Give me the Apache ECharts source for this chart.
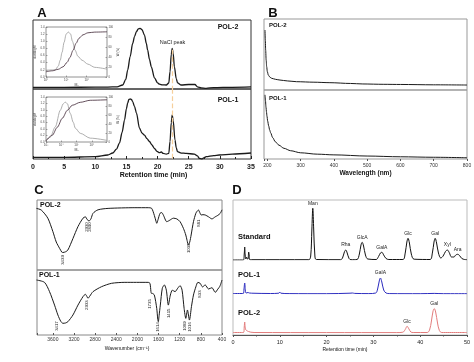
<!DOCTYPE html>
<html><head><meta charset="utf-8">
<script src="https://cdn.jsdelivr.net/npm/echarts@6/dist/echarts.min.js"></script>
<style>html,body{margin:0;padding:0;background:#fff}#c{width:474px;height:362px}</style>
</head><body><div id="c"></div>
<script>
// ---------- Panel A: GPC chromatograms ----------
const aTime2 = [0,5,10,12,13.5,14.4,14.9,15.2,15.6,16.0,16.3,16.6,16.9,17.2,17.5,17.9,18.2,18.4,18.7,19.0,19.5,20.0,20.3,20.8,21.4,21.8,22.0,22.2,22.35,22.5,22.7,23.0,23.2,23.8,25.0,26.0,26.4,27.0,27.8,29.0,32.0,35.0];
const aPol2  = [2.5,2.5,2.6,2.8,3.2,5.8,14,27.5,47,66,76,83,87,88,86,78,66,56.5,43,32,16,9,7,6,5.8,8.7,25,50,59,52,32,15,9,5.8,6.5,6.5,3,1.5,1,2,2.5,3];
const aTime1 = [0,5,10,12,12.8,13.4,13.9,14.3,14.7,15.0,15.2,15.4,15.6,15.8,16.0,16.3,16.6,17.1,17.5,17.9,18.3,18.7,19.1,19.5,19.9,20.3,20.6,20.9,21.4,21.8,22.0,22.2,22.35,22.5,22.8,23.0,23.2,23.8,24.6,25.9,26.4,26.7,27.1,27.5,27.8,29.0,29.9,32.0,35.0];
const aPol1  = [2.4,2.4,3.3,5.7,8.6,14,23,38,56,72,80,85,86,85,82,75,66,44,37,34,29,25,20,15,11,9,10,8,7,8,25,52,63,55,27,16,10.4,8.5,8,7,4.5,1,0,2,3.3,4.8,5.7,7,8.6];
const naclTime = 22.4;
const naclLabel = 'NaCl peak';
// insets (molecular weight distribution)
const inTopLogM  = [4.0,4.45,4.6,4.7,4.79,4.89,4.99,5.1,5.21,5.3,5.43,5.57,5.77,6.06,6.4,7.0];
const inTopBell  = [0.19,0.2,0.3,0.47,0.69,0.97,1.2,1.26,1.2,1.0,0.75,0.58,0.47,0.36,0.27,0.22];
const inTopLogM2 = [4.0,4.31,4.6,4.84,5.04,5.18,5.33,5.48,5.62,5.82,6.06,6.4,7.0];
const inTopSig   = [10.4,12.4,15.4,20.4,29.4,39.4,53.4,67.4,77.4,84.4,88.4,89.8,90.4];
const inBotLogM  = [3.0,3.28,3.61,3.94,4.13,4.27,4.4,4.59,4.79,4.92,5.25,5.9,7.0];
const inBotBell  = [0.05,0.15,0.47,0.99,1.19,1.24,1.19,0.89,0.61,0.43,0.27,0.12,0.05];
const inBotLogM2 = [3.0,3.41,3.74,4.07,4.4,4.72,5.25,5.9,7.0];
const inBotSig   = [2.7,14.9,32.7,52.7,70.4,81.6,88.2,92.7,93.8];

// ---------- Panel B: UV spectra ----------
const bNm2  = [193,194,195,196.5,198,200,203,208,213,225,238,260,288,340,388,450,487,550,600,700,800];
const bPol2 = [84.5,70,56,42,33,26,21,18,16.5,15,14,12.8,11.7,11,10.3,9.2,8.5,8,7.8,7.3,7];
const bNm1  = [193,194.5,196,197.5,199,201,204,207,210,216,224,235,250,270,300,350,400,500,600,700,800];
const bPol1 = [93,84,75,68,62,55,48,42,38,31,25,20,15.5,12,9,7,6,4.3,3.2,2.5,1.8];

// ---------- Panel C: FT-IR ----------
const cWn2  = [3910,3820,3695,3600,3536,3473,3430,3410,3360,3315,3220,3125,3030,2985,2950,2916,2880,2840,2745,2555,2048,1795,1730,1680,1650,1635,1610,1573,1540,1510,1445,1415,1383,1320,1255,1193,1130,1085,1060,1035,1010,984,940,895,870,845,820,794,760,718,655,590,528,480,433,400];
const cPol2 = [88,85.7,74,55,40,31,25.5,25,26,28.6,45,62,74,76,72,70,73,81,86,88,89,89,88,78,70,66.7,72,81,82,78.6,69,70,71.4,74,73,69,59.5,50,42,35.7,40,50,69,81,84,85.7,82,78.6,79,78.6,76,73,76,78,81,86];
const cWn1  = [3910,3758,3663,3568,3505,3450,3410,3360,3315,3220,3125,3030,2985,2960,2935,2900,2840,2680,2490,2238,1795,1763,1744,1735,1719,1680,1635,1615,1605,1590,1567,1529,1490,1453,1415,1377,1339,1288,1237,1193,1155,1117,1085,1054,1016,978,940,895,857,813,769,718,655,590,528,477,440,400];
const cPol1 = [84.6,81,66.7,46,30.8,21,18,18.5,20.5,30.8,46,59,62.6,60,56.4,60,66.7,74.3,79.5,81,81,79.5,66.7,64,64,61.5,41,24,20.5,30,46,72,77,69,46,61.5,69,66.7,72,76,69,41,25.6,38.5,23,43.6,61.5,74,81,79.5,74,77,70.8,72.8,65.6,70.8,75,84.6];
const cLab2   = ['3439','2930','2890','1030','881'];
const cLab2Wn = [3416,2954,2897,1022,837];
const cLab2V  = [14.3,61.4,61.4,31,67];
const cLab1   = ['3417','2933','1735','1614','1415','1089','1016','833'];
const cLab1Wn = [3530,2950,1757,1605,1402,1107,1003,818];
const cLab1V  = [13.8,46,47.7,12.3,33.4,13.8,12.3,63];

// ---------- Panel D: monosaccharide HPLC ----------
const dStdT = [0,2.2,2.4,2.5,2.6,2.75,2.9,3.0,3.2,3.35,3.45,3.55,4,10,16.2,16.6,16.85,17.05,17.25,17.5,17.8,23,23.4,23.8,24.1,24.4,24.8,25.2,26.5,27,27.35,27.6,27.9,28.3,28.8,30.6,31.1,31.5,31.8,32.2,32.7,33.3,36.3,36.8,37.15,37.4,37.7,38.1,38.7,42.1,42.6,42.95,43.2,43.5,43.9,44.4,44.9,45.4,45.8,46.2,46.7,47.2,47.6,48,48.4,48.9,49.5,50];
const dStdV = [0,0,6,13,5,1,3,1.5,1,8,5,0.5,0.3,0.3,0.3,4,30,51.7,30,4,0.5,0.3,2,8,10,7,1.5,0.3,0.5,6,15,17.7,14,5,1,0.5,3.5,7,7.7,5,1.5,0.5,0.5,7,18,21.7,17,6,0.8,0.5,7,18,21.7,17,7,2,4,8.5,10,7.5,3,3,5,5.7,4.5,1.5,0.5,0.3];
const dP1T = [0,2.2,2.35,2.5,2.65,2.8,3.2,3.5,4,8,9.8,10,10.2,12,20,25,25.5,26,29,30.5,30.9,31.25,31.5,31.8,32.2,32.7,33.5,40,43,45,50];
const dP1V = [0.5,0.5,5,11,3,1,1.5,1,0.8,0.5,0.8,2,0.8,0.4,0.3,0.8,1,0.6,0.4,1,5,13,16,12,4,1,0.4,0.3,0.6,0.3,0.3];
const dP2T = [0,2.25,2.4,2.5,2.65,2.9,3.3,3.8,4.5,20,35,36.3,36.8,37.2,37.6,38,38.5,41.5,42,42.4,42.75,43,43.3,43.7,44.1,44.6,50];
const dP2V = [0.5,0.5,6,11,4,2.5,1.5,0.8,0.5,0.4,0.4,0.8,3.5,6.7,4,1,0.5,0.5,3,12,22,24.4,21,10,2.5,0.5,0.5];
const dStdNames = ['Man','Rha','GlcA','GalA','Glc','Gal','Xyl','Ara'];
const dStdPeakT = [17.05,24.1,27.6,31.8,37.4,43.2,45.8,48.0];
const dStdPeakV = [51.7,10,17.7,7.7,21.7,21.7,10,5.7];
const dP1Names = ['GalA'], dP1PeakT = [31.5], dP1PeakV = [16];
const dP2Names = ['Glc','Gal'], dP2PeakT = [37.2,43.0], dP2PeakV = [6.7,24.4];

// ---------- build ----------
const F = '"Liberation Sans", Arial, sans-serif';
const zip = (xs, ys) => xs.map((x, i) => [x, ys[i]]);
const sup = {3:'\u00B3',4:'\u2074',5:'\u2075',6:'\u2076',7:'\u2077'};
const hx = (g, min, max, inv) => ({gridIndex:g, type:'value', min, max, inverse:!!inv, show:false});
const hy = (g, min, max) => ({gridIndex:g, type:'value', min, max, show:false});
function line(xi, yi, data, color, width, extra) {
  return Object.assign({type:'line', xAxisIndex:xi, yAxisIndex:yi, data, symbol:'none', showSymbol:false,
    smooth:0.3, lineStyle:{color, width}, itemStyle:{color}, animation:false, silent:true, z:3}, extra || {});
}
function labels(xs, ys, texts, lab) {
  return {symbol:'circle', symbolSize:0, silent:true, animation:false, itemStyle:{color:'rgba(0,0,0,0)'},
    label:Object.assign({show:true, formatter:'{b}', fontFamily:F, color:'#222'}, lab),
    data:texts.map((t, i) => ({name:t, coord:[xs[i], ys[i]]}))};
}
const insetX = (g, min, max) => ({gridIndex:g, type:'value', min, max, interval:1,
  axisLine:{show:false}, splitLine:{show:false}, axisTick:{inside:true, length:1.5, lineStyle:{color:'#555', width:0.5}},
  axisLabel:{fontSize:3, margin:2, color:'#444', fontFamily:F, showMaxLabel:false, formatter:v => '10' + (sup[v] || '')},
  name:'M\u1D65', nameLocation:'middle', nameGap:6, nameTextStyle:{fontSize:3.5, color:'#444', fontFamily:F}});
const insetYL = g => ({gridIndex:g, type:'value', min:0, max:1.4, interval:0.2, position:'left',
  axisLine:{show:false}, splitLine:{show:false}, axisTick:{show:true, inside:true, length:1.5, lineStyle:{color:'#555', width:0.5}},
  axisLabel:{fontSize:2.8, margin:1.5, color:'#444', fontFamily:F, formatter:v => v.toFixed(1)},
  name:'dw/dlogM', nameLocation:'middle', nameGap:7, nameRotate:90, nameTextStyle:{fontSize:3, color:'#444', fontFamily:F}});
const insetYR = g => ({gridIndex:g, type:'value', min:0, max:100, interval:20, position:'right',
  axisLine:{show:false}, splitLine:{show:false}, axisTick:{show:true, inside:true, length:1.5, lineStyle:{color:'#555', width:0.5}},
  axisLabel:{fontSize:2.8, margin:1.5, color:'#444', fontFamily:F},
  name:'W (%)', nameLocation:'middle', nameGap:8, nameRotate:90, nameTextStyle:{fontSize:3, color:'#444', fontFamily:F}});

const grids = [
  {left:33, top:20, width:218, height:69, show:true, borderColor:'#333', borderWidth:1},   //0 A top
  {left:33, top:89, width:218, height:70, show:true, borderColor:'#333', borderWidth:1},   //1 A bottom
  {left:46, top:27, width:61, height:50, show:true, borderColor:'#777', borderWidth:0.8, backgroundColor:'#fff'}, //2 inset top
  {left:46, top:97, width:61, height:45, show:true, borderColor:'#777', borderWidth:0.8, backgroundColor:'#fff'}, //3 inset bottom
  {left:264, top:19, width:203, height:71, show:true, borderColor:'#999', borderWidth:1},  //4 B top
  {left:264, top:90, width:203, height:69, show:true, borderColor:'#999', borderWidth:1},  //5 B bottom
  {left:37, top:200, width:185, height:70, show:true, borderColor:'#888', borderWidth:1},  //6 C top
  {left:37, top:270, width:185, height:65, show:true, borderColor:'#888', borderWidth:1},  //7 C bottom
  {left:233, top:200, width:234, height:135, show:true, borderColor:'#bbb', borderWidth:1},//8 D frame
  {left:233, top:200, width:234, height:60},  //9 D std
  {left:233, top:234, width:234, height:60},  //10 D POL-1
  {left:233, top:273, width:234, height:60}   //11 D POL-2
].map(g => Object.assign({outerBoundsMode:'none', containLabel:false}, g));

const xAxes = [
  hx(0, 0, 35),
  {gridIndex:1, type:'value', min:0, max:35, interval:5, axisLine:{show:false}, splitLine:{show:false},
   axisTick:{inside:true, length:3, lineStyle:{color:'#222'}}, minorTick:{show:true, splitNumber:2, length:2, lineStyle:{color:'#222'}},
   axisLabel:{fontSize:7, fontWeight:'bold', fontFamily:F, color:'#222', margin:5}},
  insetX(2, 4, 7),
  insetX(3, 3, 7),
  hx(4, 190, 800),
  {gridIndex:5, type:'value', min:190, max:800, splitNumber:6, axisLine:{show:false}, splitLine:{show:false},
   axisTick:{show:true, length:2, lineStyle:{color:'#555'}},
   axisLabel:{fontSize:5, fontFamily:F, color:'#333', margin:4, formatter:v => (v % 100 === 0 ? String(v) : '')}},
  hx(6, 400, 3900, true),
  {gridIndex:7, type:'value', min:400, max:3900, interval:400, inverse:true, axisLine:{show:false}, splitLine:{show:false},
   axisTick:{show:true, inside:true, length:2, lineStyle:{color:'#555'}},
   axisLabel:{fontSize:5, fontFamily:F, color:'#333', margin:2, formatter:v => (v % 400 === 0 && v <= 3600 ? String(v) : '')}},
  {gridIndex:8, type:'value', min:0, max:50, interval:10, axisLine:{show:true, lineStyle:{color:'#555', width:1}}, splitLine:{show:false},
   axisTick:{show:true, length:2, lineStyle:{color:'#555'}}, minorTick:{show:true, splitNumber:2, length:1.5, lineStyle:{color:'#555'}},
   axisLabel:{fontSize:5.5, fontFamily:F, color:'#222', margin:4}},
  hx(9, 0, 50), hx(10, 0, 50), hx(11, 0, 50)
];
const yAxes = [
  hy(0, 0, 100), hy(1, 0, 100),
  insetYL(2), insetYR(2), insetYL(3), insetYR(3),
  hy(4, 0, 100), hy(5, 0, 100),
  hy(6, 0, 100), hy(7, 0, 100),
  hy(8, 0, 1), hy(9, 0, 60), hy(10, 0, 60), hy(11, 0, 60)
];

const naclLine = (y0) => ({silent:true, symbol:['none','none'], animation:false, label:{show:false},
  lineStyle:{type:'dashed', color:'#f6cf9c', width:1.2}, data:[[{coord:[naclTime, y0]}, {coord:[naclTime, 0]}]]});

const series = [
  line(0, 0, zip(aTime2, aPol2), '#1a1a1a', 1.3, {smoothMonotone:'x', markLine:naclLine(57),
    markPoint:labels([naclTime], [59], [naclLabel], {position:'top', distance:3, fontSize:5.5})}),
  line(1, 1, zip(aTime1, aPol1), '#1a1a1a', 1.3, {smoothMonotone:'x', markLine:naclLine(100)}),
  line(2, 2, zip(inTopLogM, inTopBell), '#9a9a9a', 0.8, {smoothMonotone:'x'}),
  line(2, 3, zip(inTopLogM2, inTopSig), '#3d2434', 0.8, {smoothMonotone:'x'}),
  line(3, 4, zip(inBotLogM, inBotBell), '#9a9a9a', 0.8, {smoothMonotone:'x'}),
  line(3, 5, zip(inBotLogM2, inBotSig), '#3d2434', 0.8, {smoothMonotone:'x'}),
  line(4, 6, zip(bNm2, bPol2), '#1a1a1a', 1, {smoothMonotone:'x'}),
  line(5, 7, zip(bNm1, bPol1), '#1a1a1a', 1, {smoothMonotone:'x'}),
  line(6, 8, zip(cWn2, cPol2), '#1a1a1a', 1, {smooth:0.25,
    markPoint:labels(cLab2Wn, cLab2V, cLab2, {position:'inside', rotate:90, align:'center', verticalAlign:'middle', fontSize:4.3})}),
  line(7, 9, zip(cWn1, cPol1), '#1a1a1a', 1, {smooth:0.25,
    markPoint:labels(cLab1Wn, cLab1V, cLab1, {position:'inside', rotate:90, align:'center', verticalAlign:'middle', fontSize:4.3})}),
  line(9, 11, zip(dStdT, dStdV), '#111', 1, {smooth:0.35,
    markPoint:labels(dStdPeakT, dStdPeakV, dStdNames, {position:'top', distance:2.5, fontSize:5})}),
  line(10, 12, zip(dP1T, dP1V), '#2b2bbf', 1, {smooth:0.35,
    markPoint:labels(dP1PeakT, dP1PeakV, dP1Names, {position:'top', distance:2.5, fontSize:5})}),
  line(11, 13, zip(dP2T, dP2V), '#e27c7c', 1, {smooth:0.35,
    markPoint:labels(dP2PeakT, dP2PeakV, dP2Names, {position:'top', distance:2.5, fontSize:5})})
];

const txt = (x, y, text, size, align, weight) => ({type:'text', x, y, silent:true,
  style:{text, fontSize:size, fontFamily:F, fontWeight:weight || 'bold', fill:'#111', textAlign:align || 'center', textVerticalAlign:'middle'}});
const graphics = [
  txt(42, 13, 'A', 13), txt(273, 13, 'B', 13), txt(39, 190, 'C', 13), txt(237, 190, 'D', 13),
  txt(228, 27.5, 'POL-2', 7), txt(228, 100, 'POL-1', 7),
  txt(269, 25.7, 'POL-2', 6, 'left'), txt(269, 98.3, 'POL-1', 6, 'left'),
  txt(40, 205, 'POL-2', 7, 'left'), txt(39, 275, 'POL-1', 7, 'left'),
  txt(238, 236.5, 'Standard', 7.5, 'left'), txt(238, 275, 'POL-1', 7.5, 'left'), txt(238, 313, 'POL-2', 7.5, 'left'),
  txt(153.5, 175, 'Retention time (min)', 7), txt(365.5, 173.5, 'Wavelength (nm)', 6.5),
  txt(127, 348.5, 'Wavenumber (cm\u207B\u00B9)', 5, 'center', 'normal'), txt(345, 349.5, 'Retention time (min)', 5, 'center', 'normal')
];

const chart = echarts.init(document.getElementById('c'), null, {renderer:'canvas', width:474, height:362});
chart.setOption({backgroundColor:'#fff', animation:false, textStyle:{fontFamily:F},
  grid:grids, xAxis:xAxes, yAxis:yAxes, series, graphic:graphics});
</script></body></html>
